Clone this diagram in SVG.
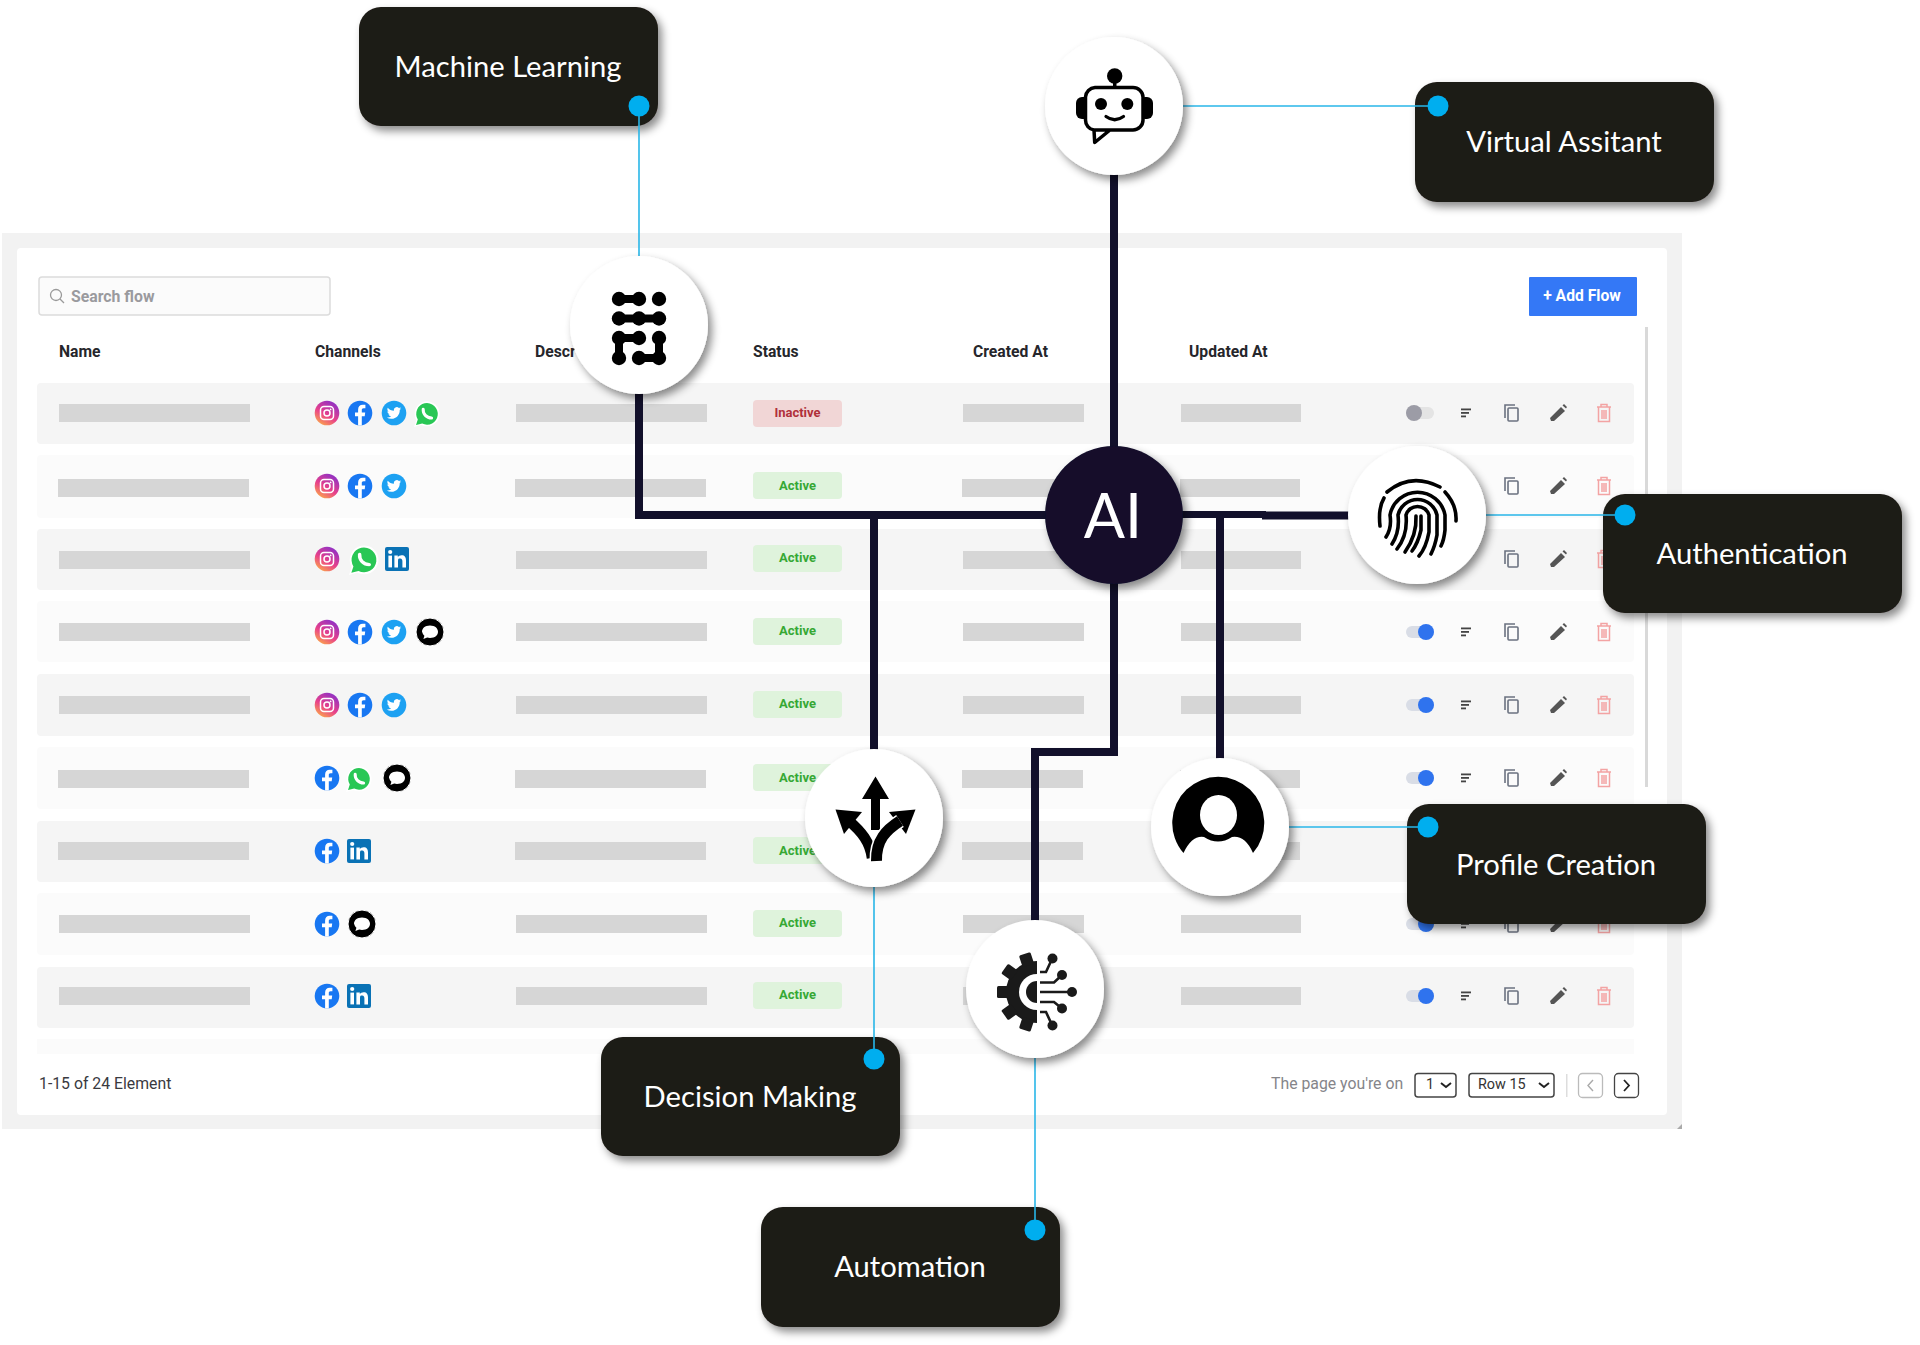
<svg xmlns="http://www.w3.org/2000/svg" width="1920" height="1345" viewBox="0 0 1920 1345">
<style>
.r1{fill:#f5f5f5}.r2{fill:#fbfbfb}.bar{fill:#d6d6d6}
.th{font:700 15.7px Roboto,"Liberation Sans",sans-serif;fill:#26262b}
.bd{font:700 13px Roboto,"Liberation Sans",sans-serif;text-anchor:middle}
.ok{fill:#dff3dc}.okt{fill:#36a834}.no{fill:#f1d6d6}.not{fill:#b0303a}
.lab{fill:#1c1a14;filter:url(#sh)}
.lt{font:400 29.2px Lato,"Liberation Sans",sans-serif;fill:#fff;text-anchor:middle}
.cir{fill:#fff;filter:url(#sh)}
.thick{fill:none;stroke:#12102b;stroke-width:8}
.thin{fill:none;stroke:#29b6e8;stroke-width:1.6}
.ft{font:400 15.8px Roboto,"Liberation Sans",sans-serif}
.sel{fill:#fff;stroke:#444;stroke-width:1.5}
.st{font:400 14.4px Roboto,"Liberation Sans",sans-serif;fill:#333}
.k{fill:none;stroke:#000;stroke-linecap:round;stroke-width:3.6}
</style>
<defs>
<filter id="sh" x="-20%" y="-20%" width="150%" height="150%"><feDropShadow dx="4" dy="5" stdDeviation="4" flood-color="#000" flood-opacity=".45"/></filter>
<marker id="dot" markerUnits="userSpaceOnUse" markerWidth="22" markerHeight="22" viewBox="0 0 22 22" refX="11" refY="11"><circle cx="11" cy="11" r="10.5" fill="#00aeef"/></marker>
<linearGradient id="ig" x1="0.15" y1="1" x2="0.75" y2="0"><stop offset="0" stop-color="#fdb045"/><stop offset=".45" stop-color="#e8418a"/><stop offset="1" stop-color="#8a2fc9"/></linearGradient>
<clipPath id="cc"><circle r="12.3"/></clipPath>
<clipPath id="gearclip"><rect x="990" y="945" width="47" height="95"/></clipPath>
<g id="ic-ig"><circle r="12.3" fill="url(#ig)"/><rect x="-6.5" y="-6.5" width="13" height="13" rx="3.5" fill="none" stroke="#fff" stroke-width="1.5"/><circle r="3" fill="none" stroke="#fff" stroke-width="1.5"/><circle cx="3.6" cy="-3.6" r=".9" fill="#fff"/></g>
<g id="ic-fb"><circle r="12.3" fill="#1877f2"/><path clip-path="url(#cc)" fill="#fff" d="M-1.9 13V3.2H-5V-.6H-1.9V-3.4C-1.9-6.6 0-8.2 2.7-8.2H5.4V-4.8H3.6C2.2-4.8 1.8-4 1.8-3V-.6H5.2L4.7 3.2H1.8V13Z"/></g>
<g id="ic-tw"><circle r="12.3" fill="#1da1f2"/><path fill="#fff" transform="translate(-7.2,-7.2) scale(.6)" d="M23.95 4.57a10 10 0 01-2.82.77 4.96 4.96 0 002.16-2.72c-.95.55-2 .95-3.13 1.18a4.92 4.92 0 00-8.38 4.48C7.69 8.1 4.07 6.13 1.64 3.16a4.82 4.82 0 00-.67 2.48c0 1.71.87 3.2 2.19 4.1a4.9 4.9 0 01-2.23-.61v.06c0 2.39 1.7 4.38 3.95 4.83a5 5 0 01-2.21.08 4.94 4.94 0 004.6 3.42A9.87 9.87 0 010 19.54a14 14 0 007.55 2.21c9.05 0 14-7.5 14-13.98 0-.21 0-.42-.02-.63a9.94 9.94 0 002.46-2.55z"/></g>
<g id="ic-wa"><path d="M-13 13L-10.8 6A12.5 12.5 0 1 1-5.6 11Z" fill="#fff"/><path d="M-11 11L-9.2 5.6A10.8 10.8 0 1 1-4.8 9.6Z" fill="#29c755"/><path fill="none" stroke="#fff" stroke-width="3" stroke-linecap="round" d="M-3.8-4.8C-4.2 0-.5 4 4.6 4"/></g>
<g id="ic-in"><rect x="-12" y="-12" width="24" height="24" rx="2" fill="#0a72b5"/><rect x="-8.6" y="-3.4" width="3.6" height="11.8" fill="#fff"/><circle cx="-6.8" cy="-7" r="2.1" fill="#fff"/><path fill="#fff" d="M-2.6-3.4H.8V-1.8C1.6-3 3-3.7 4.6-3.7 7.8-3.7 9-1.8 9 1.6V8.4H5.4V2.4C5.4.8 4.9-.6 3.2-.6 1.6-.6 1-.8 1 2.4V8.4H-2.6Z"/></g>
<g id="ic-ms"><circle r="14" fill="#000" stroke="#fff"/><path fill="#fff" d="M0-6.5C5-6.5 8-3.6 8-.2S5 6 0 6C-1 6-2 5.9-2.8 5.6L-6.6 7-5.6 3.8C-7.2 2.6-8-1-8-.2-8-3.6-5-6.5 0-6.5Z"/></g>
<g id="tog-off"><rect x="-14" y="-6" width="28" height="12" rx="6" fill="#e4e4e4"/><circle cx="-6" r="8" fill="#9c9ca6"/></g>
<g id="tog-on"><rect x="-14" y="-6" width="28" height="12" rx="6" fill="#d9dde6"/><circle cx="6" r="8" fill="#2f73ee"/></g>
<g id="a-list" fill="#444"><rect x="-5" y="-4.5" width="10" height="1.8"/><rect x="-5" y="-1" width="8" height="1.8"/><rect x="-5" y="2.5" width="5" height="1.8"/></g>
<g id="a-copy" fill="none" stroke="#6b7280" stroke-width="1.6"><path d="M-7 5V-8H3"/><rect x="-4" y="-5" width="10" height="13" rx="1"/></g>
<path id="a-pen" fill="#555" d="M-7 8L-8 5 3-6 7-2-4 8ZM4.500-7.500L6-9 9-6 8-4.500Z"/>
<g id="a-trash" fill="none" stroke="#f3a3a3" stroke-width="1.5"><path d="M-7-6H7M-3-6V-8.500H3V-6M-5.500-6V8.500H5.500V-6M-2-3V6M0-3V6M2-3V6"/></g>
</defs>
<g id="panel">
<rect x="2" y="233" width="1680" height="896" fill="#f2f2f2"/>
<path d="M1682 1124v5h-5z" fill="#aaa"/>
<rect x="17" y="248" width="1650" height="867" rx="4" fill="#fff"/>
<rect x="39" y="277" width="291" height="38" rx="3" fill="#fbfbfb" stroke="#dcdcdc" stroke-width="1.5"/>
<circle cx="56" cy="295" r="5.500" fill="none" stroke="#9a9a9a" stroke-width="1.3"/><path d="M60 299l4 4" stroke="#9a9a9a" stroke-width="1.3"/>
<text x="71" y="301.500" style="font:700 15.8px Roboto,'Liberation Sans',sans-serif;fill:#9a9a9e">Search flow</text>
<rect x="1529" y="277" width="108" height="39" rx="1" fill="#3478f6"/>
<text x="1582" y="301" text-anchor="middle" style="font:700 15.700px Roboto,'Liberation Sans',sans-serif;fill:#fff">+ Add Flow</text>
<rect x="1645" y="327" width="3" height="460" fill="#d9d9d9"/>
<text class="th" x="59" y="356.500">Name</text>
<text class="th" x="315" y="356.500">Channels</text>
<text class="th" x="535" y="356.500">Descr</text>
<text class="th" x="753" y="356.500">Status</text>
<text class="th" x="973" y="356.500">Created At</text>
<text class="th" x="1189" y="356.500">Updated At</text>
<rect class="r1" x="37" y="383" width="1597" height="61" rx="4"/>
<rect class="r2" x="37" y="455" width="1597" height="63" rx="4"/>
<rect class="r1" x="37" y="529" width="1597" height="61" rx="4"/>
<rect class="r2" x="37" y="601" width="1597" height="61" rx="4"/>
<rect class="r1" x="37" y="674" width="1597" height="62" rx="4"/>
<rect class="r2" x="37" y="747" width="1597" height="62" rx="4"/>
<rect class="r1" x="37" y="821" width="1597" height="61" rx="4"/>
<rect class="r2" x="37" y="893" width="1597" height="62" rx="4"/>
<rect class="r1" x="37" y="967" width="1597" height="61" rx="4"/>
<rect class="r2" x="37" y="1039" width="1597" height="15"/>
<g class="bar">
<rect x="59" y="404" width="191" height="18"/><rect x="516" y="404" width="191" height="18"/><rect x="963" y="404" width="121" height="18"/><rect x="1181" y="404" width="120" height="18"/>
<rect x="58" y="479" width="191" height="18"/><rect x="515" y="479" width="191" height="18"/><rect x="962" y="479" width="121" height="18"/><rect x="1180" y="479" width="120" height="18"/>
<rect x="59" y="551" width="191" height="18"/><rect x="516" y="551" width="191" height="18"/><rect x="963" y="551" width="121" height="18"/><rect x="1181" y="551" width="120" height="18"/>
<rect x="59" y="623" width="191" height="18"/><rect x="516" y="623" width="191" height="18"/><rect x="963" y="623" width="121" height="18"/><rect x="1181" y="623" width="120" height="18"/>
<rect x="59" y="696" width="191" height="18"/><rect x="516" y="696" width="191" height="18"/><rect x="963" y="696" width="121" height="18"/><rect x="1181" y="696" width="120" height="18"/>
<rect x="58" y="770" width="191" height="18"/><rect x="515" y="770" width="191" height="18"/><rect x="962" y="770" width="121" height="18"/><rect x="1180" y="770" width="120" height="18"/>
<rect x="58" y="842" width="191" height="18"/><rect x="515" y="842" width="191" height="18"/><rect x="962" y="842" width="121" height="18"/><rect x="1180" y="842" width="120" height="18"/>
<rect x="59" y="915" width="191" height="18"/><rect x="516" y="915" width="191" height="18"/><rect x="963" y="915" width="121" height="18"/><rect x="1181" y="915" width="120" height="18"/>
<rect x="59" y="987" width="191" height="18"/><rect x="516" y="987" width="191" height="18"/><rect x="963" y="987" width="121" height="18"/><rect x="1181" y="987" width="120" height="18"/>
</g>
<use href="#ic-ig" x="327" y="413"/><use href="#ic-fb" x="360" y="413"/><use href="#ic-tw" x="394" y="413"/><use href="#ic-wa" x="427" y="414"/>
<use href="#ic-ig" x="327" y="486"/><use href="#ic-fb" x="360" y="486"/><use href="#ic-tw" x="394" y="486"/>
<use href="#ic-ig" x="327" y="559"/><use href="#ic-wa" transform="translate(364,560) scale(1.15)"/><use href="#ic-in" x="397" y="559"/>
<use href="#ic-ig" x="327" y="632"/><use href="#ic-fb" x="360" y="632"/><use href="#ic-tw" x="394" y="632"/><use href="#ic-ms" x="430" y="632"/>
<use href="#ic-ig" x="327" y="705"/><use href="#ic-fb" x="360" y="705"/><use href="#ic-tw" x="394" y="705"/>
<use href="#ic-fb" x="327" y="778"/><use href="#ic-wa" x="359" y="779"/><use href="#ic-ms" x="397" y="778"/>
<use href="#ic-fb" x="327" y="851"/><use href="#ic-in" x="359" y="851"/>
<use href="#ic-fb" x="327" y="924"/><use href="#ic-ms" x="362" y="924"/>
<use href="#ic-fb" x="327" y="996"/><use href="#ic-in" x="359" y="996"/>
<rect class="no" x="753" y="400" width="89" height="27" rx="4"/><text class="bd not" x="797.500" y="416.500">Inactive</text>
<rect class="ok" x="753" y="472" width="89" height="27" rx="4"/><text class="bd okt" x="797.500" y="490">Active</text>
<rect class="ok" x="753" y="545" width="89" height="27" rx="4"/><text class="bd okt" x="797.500" y="562">Active</text>
<rect class="ok" x="753" y="618" width="89" height="27" rx="4"/><text class="bd okt" x="797.500" y="635">Active</text>
<rect class="ok" x="753" y="691" width="89" height="27" rx="4"/><text class="bd okt" x="797.500" y="708">Active</text>
<rect class="ok" x="753" y="764" width="89" height="27" rx="4"/><text class="bd okt" x="797.500" y="781.500">Active</text>
<rect class="ok" x="753" y="837" width="89" height="27" rx="4"/><text class="bd okt" x="797.500" y="854.500">Active</text>
<rect class="ok" x="753" y="910" width="89" height="27" rx="4"/><text class="bd okt" x="797.500" y="927">Active</text>
<rect class="ok" x="753" y="982" width="89" height="27" rx="4"/><text class="bd okt" x="797.500" y="999">Active</text>
<use href="#tog-off" x="1420" y="413"/><use href="#a-list" x="1466" y="413"/><use href="#a-copy" x="1512" y="413"/><use href="#a-pen" x="1558" y="413"/><use href="#a-trash" x="1604" y="413"/>
<use href="#a-copy" x="1512" y="486"/><use href="#a-pen" x="1558" y="486"/><use href="#a-trash" x="1604" y="486"/>
<use href="#a-copy" x="1512" y="559"/><use href="#a-pen" x="1558" y="559"/><use href="#a-trash" x="1604" y="559"/>
<use href="#tog-on" x="1420" y="632"/><use href="#a-list" x="1466" y="632"/><use href="#a-copy" x="1512" y="632"/><use href="#a-pen" x="1558" y="632"/><use href="#a-trash" x="1604" y="632"/>
<use href="#tog-on" x="1420" y="705"/><use href="#a-list" x="1466" y="705"/><use href="#a-copy" x="1512" y="705"/><use href="#a-pen" x="1558" y="705"/><use href="#a-trash" x="1604" y="705"/>
<use href="#tog-on" x="1420" y="778"/><use href="#a-list" x="1466" y="778"/><use href="#a-copy" x="1512" y="778"/><use href="#a-pen" x="1558" y="778"/><use href="#a-trash" x="1604" y="778"/>
<use href="#tog-on" x="1420" y="924"/><use href="#a-list" x="1466" y="924"/><use href="#a-copy" x="1512" y="924"/><use href="#a-pen" x="1558" y="924"/><use href="#a-trash" x="1604" y="924"/>
<use href="#tog-on" x="1420" y="996"/><use href="#a-list" x="1466" y="996"/><use href="#a-copy" x="1512" y="996"/><use href="#a-pen" x="1558" y="996"/><use href="#a-trash" x="1604" y="996"/>
<text class="ft" x="39" y="1089" fill="#3a3a3f">1-15 of 24 Element</text>
<text class="ft" x="1271" y="1088.500" fill="#85858a">The page you're on</text>
<rect class="sel" x="1415" y="1073.500" width="41" height="23.500" rx="3"/>
<text class="st" x="1426" y="1089">1</text>
<path d="M1441 1083l5 4 5-4" fill="none" stroke="#222" stroke-width="2"/>
<rect class="sel" x="1469" y="1073.500" width="85" height="23.500" rx="3"/>
<text class="st" x="1478" y="1089">Row 15</text>
<path d="M1539 1083l5 4 5-4" fill="none" stroke="#222" stroke-width="2"/>
<rect x="1566" y="1074" width="1.500" height="23" fill="#ddd"/>
<rect x="1578.500" y="1073.500" width="24" height="24" rx="4" fill="#fff" stroke="#bbb" stroke-width="1.300"/><path d="M1593 1080l-5 5.500 5 5.500" fill="none" stroke="#aaa" stroke-width="1.400"/>
<rect x="1614.500" y="1073.500" width="24" height="24" rx="4" fill="#fff" stroke="#444" stroke-width="1.300"/><path d="M1624 1080l5 5.500-5 5.500" fill="none" stroke="#222" stroke-width="1.800"/>
</g>
<g id="label-machine-learning"><rect class="lab" x="359" y="7" width="299" height="119" rx="22"/><text class="lt" x="508" y="77">Machine Learning</text></g>
<g id="label-virtual-assistant"><rect class="lab" x="1415" y="82" width="299" height="120" rx="22"/><text class="lt" x="1564" y="152">Virtual Assitant</text></g>
<g id="label-authentication"><rect class="lab" x="1603" y="494" width="299" height="119" rx="22"/><text class="lt" x="1752" y="564">Authentication</text></g>
<g id="label-profile-creation"><rect class="lab" x="1407" y="804" width="299" height="120" rx="22"/><text class="lt" x="1556" y="875">Profile Creation</text></g>
<g id="label-decision-making"><rect class="lab" x="601" y="1037" width="299" height="119" rx="22"/><text class="lt" x="750" y="1107">Decision Making</text></g>
<g id="label-automation"><rect class="lab" x="761" y="1207" width="299" height="120" rx="22"/><text class="lt" x="910" y="1277">Automation</text></g>
<g id="connectors">
<path class="thick" d="M1114 170V450"/>
<path class="thick" d="M639 390V515H1114"/>
<path class="thick" d="M874 515V755"/>
<path class="thick" d="M1114 514.500H1266" style="stroke-width:7"/>
<path class="thick" d="M1262 515.500H1350"/>
<path class="thick" d="M1220 515V762"/>
<path class="thick" d="M1114 580V752H1035V925"/>
<path class="thin" marker-start="url(#dot)" d="M639 106V258"/>
<path class="thin" marker-end="url(#dot)" d="M1183 106H1438"/>
<path class="thin" marker-end="url(#dot)" d="M1485 515H1625"/>
<path class="thin" marker-end="url(#dot)" d="M1288 827H1428"/>
<path class="thin" marker-end="url(#dot)" d="M874 885V1059"/>
<path class="thin" marker-end="url(#dot)" d="M1035 1055V1230"/>
</g>
<g id="node-bot"><circle class="cir" cx="1114" cy="106" r="69"/>
<circle cx="1114.700" cy="76" r="7.700"/><rect x="1113" y="80" width="3.500" height="8"/>
<rect x="1076" y="97" width="14" height="22" rx="6"/><rect x="1139" y="97" width="14" height="22" rx="6"/>
<path d="M1094 130H1133A10 10 0 0 0 1143 120V97A10 10 0 0 0 1133 87.500H1095A10 10 0 0 0 1085.500 97V120A10 10 0 0 0 1094 130L1094.700 142.500 1110 130" fill="#fff" stroke="#000" stroke-width="3.500" stroke-linejoin="round"/>
<circle cx="1101" cy="104" r="6"/><circle cx="1127.300" cy="104" r="6"/>
<path d="M1106 116.500Q1114.700 123 1123.500 116.500" fill="none" stroke="#000" stroke-width="3.200" stroke-linecap="round"/></g>
<g id="node-ml"><circle class="cir" cx="639" cy="325" r="69"/>
<g fill="#000"><circle cx="619" cy="299" r="7.200"/><circle cx="639" cy="299" r="7.200"/><circle cx="659" cy="299" r="7.200"/><circle cx="619" cy="318.500" r="7.200"/><circle cx="639" cy="318.500" r="7.200"/><circle cx="659" cy="318.500" r="7.200"/><circle cx="619" cy="338" r="7.200"/><circle cx="639" cy="338" r="7.200"/><circle cx="659" cy="338" r="7.200"/><circle cx="619" cy="358" r="7.200"/><circle cx="639" cy="358" r="7.200"/><circle cx="659" cy="358" r="7.200"/></g>
<path fill="none" stroke="#000" stroke-width="8" d="M619 299H639M619 318.500H659M619 338H639M619 338V358M659 338V358M639 358H659"/></g>
<g id="node-ai"><circle cx="1114" cy="515" r="69" fill="#12102b" filter="url(#sh)"/><text x="1113" y="538" text-anchor="middle" style="font:400 61px Lato,'Liberation Sans',sans-serif;fill:#fff">AI</text></g>
<g id="node-fingerprint"><circle class="cir" cx="1417" cy="515" r="69"/>
<path class="k" d="M1387 492Q1411 472 1440 487M1445 492Q1457 505 1456 521M1380 526Q1378 508 1384 498"/>
<path class="k" d="M1386 537Q1392 528 1390 515A28 28 0 0 1 1445 515V530Q1444 540 1441 546"/>
<path class="k" d="M1392 544Q1400 532 1398 515A20 20 0 0 1 1437 515V535Q1435 546 1431 554"/>
<path class="k" d="M1397 549Q1408 535 1406 515A12 12 0 0 1 1429 515V532Q1426 548 1419 556"/>
<path class="k" d="M1405 552Q1417 535 1416 516M1421 516V530Q1418 543 1412 551"/></g>
<g id="node-decision"><circle class="cir" cx="874" cy="818" r="69"/>
<path d="M875.500 776.500L889 799H880V830H871V799H862Z" fill="#000"/>
<path d="M835.500 809.500L862 812 844 834Z" fill="#000"/><path d="M872 858C870 842 862 832 848 820" fill="none" stroke="#000" stroke-width="10.500"/>
<path d="M915.500 809.500L889 812 906 834Z" fill="#000"/><path d="M876.500 861C876 840 886 830 900 821" fill="none" stroke="#fff" stroke-width="14"/><path d="M876.500 861C876 840 886 830 900 821" fill="none" stroke="#000" stroke-width="11"/></g>
<g id="node-profile"><circle class="cir" cx="1220" cy="827" r="69"/>
<path d="M1183.500 853A46 46 0 1 1 1253 853Q1245 835 1232 837Q1218 846 1204 837Q1192 835 1183.500 853Z" fill="#000"/>
<ellipse cx="1218.500" cy="815" rx="18.500" ry="20" fill="#fff"/></g>
<g id="node-automation"><circle class="cir" cx="1035" cy="989" r="69"/>
<g fill="#1a1a1a"><g clip-path="url(#gearclip)"><circle cx="1037" cy="992" r="31"/><rect x="997" y="986" width="12" height="12" rx="1.500"/><rect x="997" y="986" width="12" height="12" rx="1.500" transform="rotate(36 1037 992)"/><rect x="997" y="986" width="12" height="12" rx="1.500" transform="rotate(72 1037 992)"/><rect x="997" y="986" width="12" height="12" rx="1.500" transform="rotate(108 1037 992)"/><rect x="997" y="986" width="12" height="12" rx="1.500" transform="rotate(-36 1037 992)"/><rect x="997" y="986" width="12" height="12" rx="1.500" transform="rotate(-72 1037 992)"/><rect x="997" y="986" width="12" height="12" rx="1.500" transform="rotate(-108 1037 992)"/><circle cx="1037" cy="992" r="18" fill="#fff"/><circle cx="1037" cy="992" r="11"/></g>
<circle cx="1052.500" cy="958.500" r="5"/><circle cx="1062" cy="975" r="5"/><circle cx="1072" cy="992" r="5"/><circle cx="1062" cy="1008.500" r="5"/><circle cx="1052.500" cy="1025.500" r="5"/></g>
<path d="M1040 972H1046L1052 959M1040 982.500H1054L1062 975M1040 992H1072M1040 1002H1054L1062 1008.500M1040 1012H1046L1052 1025" fill="none" stroke="#1a1a1a" stroke-width="2.600"/></g>
</svg>
